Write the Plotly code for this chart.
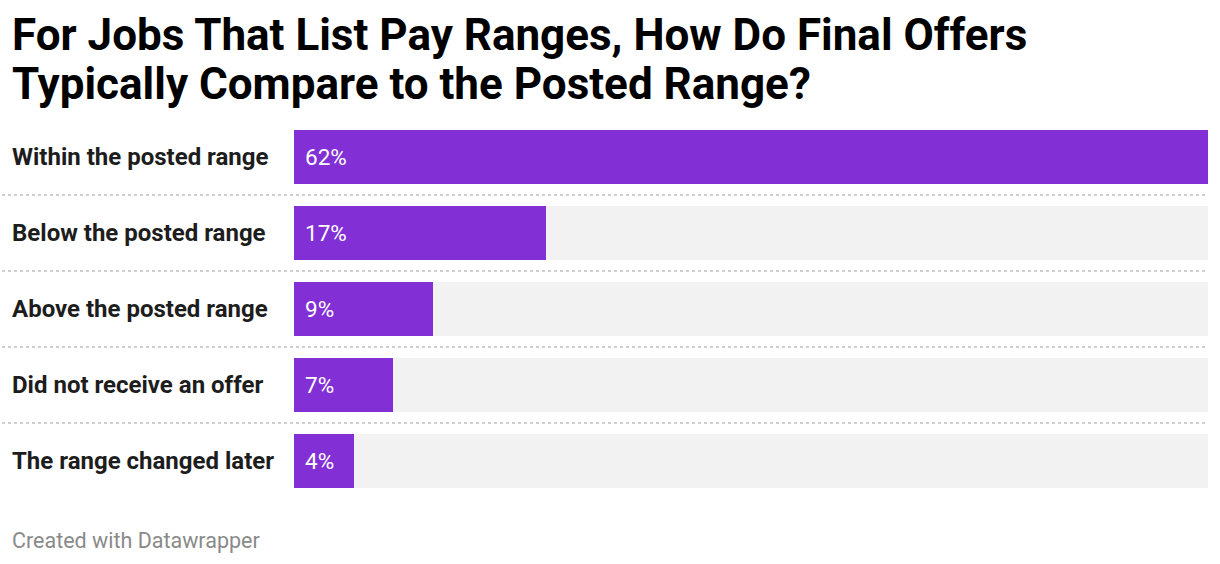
import plotly.graph_objects as go

categories = ["Within the posted range", "Below the posted range", "Above the posted range",
              "Did not receive an offer", "The range changed later"]
values = [62, 17.1, 9.4, 6.7, 4.1]
value_labels = ["62%", "17%", "9%", "7%", "4%"]

title_lines = ["For Jobs That List Pay Ranges, How Do Final Offers",
               "Typically Compare to the Posted Range?"]
footer = "Created with Datawrapper"

BAR = "#8230d6"
BG = "#f2f2f2"
W, H = 1220, 564
L, R, T, B = 294, 12, 119, 65
pw = W - L - R
ph = H - T - B

def px_x(p):
    return (p - L) / pw

def px_y(p):
    return (H - B - p) / ph

fig = go.Figure()
vmax = max(values)
fig.add_trace(go.Bar(y=categories, x=[vmax] * len(values), orientation="h",
                     marker=dict(color=BG, line=dict(width=0)), width=54 / 76,
                     hoverinfo="skip", showlegend=False))
fig.add_trace(go.Bar(y=categories, x=values, orientation="h",
                     marker=dict(color=BAR, line=dict(width=0)), width=54 / 76,
                     showlegend=False))

for i, (c, v, t) in enumerate(zip(categories, values, value_labels)):
    fig.add_annotation(x=px_x(10), xref="paper", y=c, yref="y", text="<b>" + c + "</b>",
                       showarrow=False, xanchor="left", yanchor="middle",
                       font=dict(family="Roboto", size=24, color="#1d1d1d"))
    fig.add_annotation(x=0, xref="x", y=c, yref="y", text=t, xshift=9,
                       showarrow=False, xanchor="left", yanchor="middle",
                       font=dict(family="Roboto", size=22.5, color="white"))

for i in range(len(categories) - 1):
    fig.add_shape(type="line", xref="paper", yref="y", x0=px_x(2), x1=1,
                  y0=i + 0.5, y1=i + 0.5,
                  line=dict(color="#d0d0d0", width=2, dash="dot"))

for line, yc in zip(title_lines, [35, 84]):
    fig.add_annotation(x=px_x(10), xref="paper", y=px_y(yc), yref="paper",
                       text="<b>" + line + "</b>",
                       showarrow=False, xanchor="left", yanchor="middle", align="left",
                       font=dict(family="Roboto", size=44, color="#000000"))

fig.add_annotation(x=px_x(10), xref="paper", y=px_y(540), yref="paper",
                   text=footer, showarrow=False, xanchor="left", yanchor="middle",
                   font=dict(family="Roboto", size=21.5, color="#8a8a8a"))

fig.update_layout(
    width=W, height=H,
    margin=dict(l=L, r=R, t=T, b=B),
    barmode="overlay",
    bargap=0,
    plot_bgcolor="white", paper_bgcolor="white",
    xaxis=dict(range=[0, vmax], visible=False, fixedrange=True),
    yaxis=dict(visible=False, fixedrange=True, autorange=False,
               range=[len(categories) - 0.5, -0.5]),
    font=dict(family="Roboto"),
)

fig.write_html("out.html")
